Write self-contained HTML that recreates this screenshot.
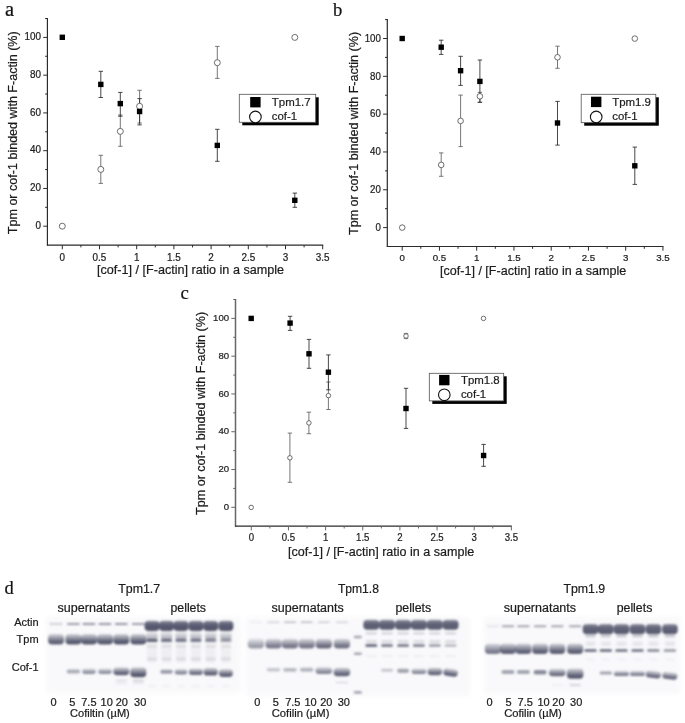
<!DOCTYPE html>
<html><head><meta charset="utf-8"><title>Figure</title>
<style>
html,body{margin:0;padding:0;background:#fff}
svg{display:block;font-family:"Liberation Sans", Arial, sans-serif}
text{stroke:#1c1c1c;stroke-width:0.22px}
</style></head><body>
<svg width="685" height="723" viewBox="0 0 685 723">
<defs>
<filter id="b1" x="-20%" y="-50%" width="140%" height="200%"><feGaussianBlur stdDeviation="1.0"/></filter>
<filter id="b2" x="-20%" y="-50%" width="140%" height="200%"><feGaussianBlur stdDeviation="0.6"/></filter>
<linearGradient id="vg" x1="0" y1="0" x2="0" y2="1"><stop offset="0" stop-color="#505269" stop-opacity="0.22"/><stop offset="0.38" stop-color="#505269" stop-opacity="0.62"/><stop offset="0.74" stop-color="#505269" stop-opacity="1"/><stop offset="1" stop-color="#505269" stop-opacity="1"/></linearGradient>
<linearGradient id="vg2" x1="0" y1="0" x2="0" y2="1"><stop offset="0" stop-color="#505269" stop-opacity="0.6"/><stop offset="0.3" stop-color="#505269" stop-opacity="0.92"/><stop offset="0.6" stop-color="#505269" stop-opacity="1"/><stop offset="1" stop-color="#505269" stop-opacity="1"/></linearGradient>
<filter id="b3" x="-5%" y="-5%" width="110%" height="110%"><feGaussianBlur stdDeviation="2"/></filter>
</defs>
<rect width="685" height="723" fill="#fff"/>
<path d="M47.42 18.02V245.58" stroke="#2b2b2b" stroke-width="1.2" fill="none"/>
<path d="M46.92 245.08H323.20" stroke="#2b2b2b" stroke-width="1.2" fill="none"/>
<path d="M43.22 226.20H47.42M45.12 207.32H47.42M43.22 188.44H47.42M45.12 169.56H47.42M43.22 150.68H47.42M45.12 131.80H47.42M43.22 112.92H47.42M45.12 94.04H47.42M43.22 75.16H47.42M45.12 56.28H47.42M43.22 37.40H47.42M45.12 18.52H47.42M62.30 245.08V249.28M80.90 245.08V247.38M99.50 245.08V249.28M118.10 245.08V247.38M136.70 245.08V249.28M155.30 245.08V247.38M173.90 245.08V249.28M192.50 245.08V247.38M211.10 245.08V249.28M229.70 245.08V247.38M248.30 245.08V249.28M266.90 245.08V247.38M285.50 245.08V249.28M304.10 245.08V247.38M322.70 245.08V249.28" stroke="#2b2b2b" stroke-width="1" fill="none"/>
<text x="41.02" y="228.90" font-size="10.6" text-anchor="end" fill="#1c1c1c" textLength="5.50" lengthAdjust="spacingAndGlyphs">0</text>
<text x="41.02" y="191.14" font-size="10.6" text-anchor="end" fill="#1c1c1c" textLength="11.01" lengthAdjust="spacingAndGlyphs">20</text>
<text x="41.02" y="153.38" font-size="10.6" text-anchor="end" fill="#1c1c1c" textLength="11.01" lengthAdjust="spacingAndGlyphs">40</text>
<text x="41.02" y="115.62" font-size="10.6" text-anchor="end" fill="#1c1c1c" textLength="11.01" lengthAdjust="spacingAndGlyphs">60</text>
<text x="41.02" y="77.86" font-size="10.6" text-anchor="end" fill="#1c1c1c" textLength="11.01" lengthAdjust="spacingAndGlyphs">80</text>
<text x="41.02" y="40.10" font-size="10.6" text-anchor="end" fill="#1c1c1c" textLength="16.51" lengthAdjust="spacingAndGlyphs">100</text>
<text x="62.30" y="260.58" font-size="10.6" text-anchor="middle" fill="#1c1c1c" textLength="5.50" lengthAdjust="spacingAndGlyphs">0</text>
<text x="99.50" y="260.58" font-size="10.6" text-anchor="middle" fill="#1c1c1c" textLength="13.76" lengthAdjust="spacingAndGlyphs">0.5</text>
<text x="136.70" y="260.58" font-size="10.6" text-anchor="middle" fill="#1c1c1c" textLength="5.50" lengthAdjust="spacingAndGlyphs">1</text>
<text x="173.90" y="260.58" font-size="10.6" text-anchor="middle" fill="#1c1c1c" textLength="13.76" lengthAdjust="spacingAndGlyphs">1.5</text>
<text x="211.10" y="260.58" font-size="10.6" text-anchor="middle" fill="#1c1c1c" textLength="5.50" lengthAdjust="spacingAndGlyphs">2</text>
<text x="248.30" y="260.58" font-size="10.6" text-anchor="middle" fill="#1c1c1c" textLength="13.76" lengthAdjust="spacingAndGlyphs">2.5</text>
<text x="285.50" y="260.58" font-size="10.6" text-anchor="middle" fill="#1c1c1c" textLength="5.50" lengthAdjust="spacingAndGlyphs">3</text>
<text x="322.70" y="260.58" font-size="10.6" text-anchor="middle" fill="#1c1c1c" textLength="13.76" lengthAdjust="spacingAndGlyphs">3.5</text>
<text transform="translate(16.60 132.75) rotate(-90)" font-size="13.1" text-anchor="middle" fill="#1c1c1c" textLength="202.90" lengthAdjust="spacingAndGlyphs">Tpm or cof-1 binded with F-actin (%)</text>
<text x="190.50" y="274.30" font-size="13.1" text-anchor="middle" fill="#1c1c1c" textLength="187.10" lengthAdjust="spacingAndGlyphs">[cof-1] / [F-actin] ratio in a sample</text>
<path d="M100.80 155.30V183.40M98.60 155.30h4.4M98.60 183.40h4.4M120.30 115.00V146.30M118.10 115.00h4.4M118.10 146.30h4.4M139.60 90.30V123.00M137.40 90.30h4.4M137.40 123.00h4.4M217.30 46.40V78.40M215.10 46.40h4.4M215.10 78.40h4.4" stroke="#686868" stroke-width="0.9" fill="none"/>
<path d="M100.80 71.30V97.50M98.60 71.30h4.4M98.60 97.50h4.4M120.30 92.40V116.20M118.10 92.40h4.4M118.10 116.20h4.4M139.60 98.60V124.90M137.40 98.60h4.4M137.40 124.90h4.4M217.30 129.30V161.30M215.10 129.30h4.4M215.10 161.30h4.4M294.80 193.10V207.30M292.60 193.10h4.4M292.60 207.30h4.4" stroke="#333" stroke-width="0.9" fill="none"/>
<circle cx="62.30" cy="226.20" r="3.0" fill="#fff" stroke="#555" stroke-width="0.85"/>
<circle cx="100.80" cy="169.40" r="3.0" fill="#fff" stroke="#555" stroke-width="0.85"/>
<circle cx="120.30" cy="131.40" r="3.0" fill="#fff" stroke="#555" stroke-width="0.85"/>
<circle cx="139.60" cy="106.30" r="3.0" fill="#fff" stroke="#555" stroke-width="0.85"/>
<circle cx="217.30" cy="62.70" r="3.0" fill="#fff" stroke="#555" stroke-width="0.85"/>
<circle cx="294.80" cy="37.40" r="3.0" fill="#fff" stroke="#555" stroke-width="0.85"/>
<rect x="59.60" y="34.60" width="5.4" height="5.4" fill="#000"/>
<rect x="98.10" y="81.70" width="5.4" height="5.4" fill="#000"/>
<rect x="117.60" y="100.90" width="5.4" height="5.4" fill="#000"/>
<rect x="136.90" y="108.80" width="5.4" height="5.4" fill="#000"/>
<rect x="214.60" y="142.70" width="5.4" height="5.4" fill="#000"/>
<rect x="292.10" y="197.60" width="5.4" height="5.4" fill="#000"/>
<rect x="242.30" y="97.30" width="76.40" height="28.00" fill="#000"/>
<rect x="239.30" y="94.30" width="76.40" height="28.00" fill="#fff" stroke="#555" stroke-width="0.8"/>
<rect x="250.20" y="97.00" width="10.4" height="10.4" fill="#000"/>
<circle cx="255.40" cy="116.90" r="5.8" fill="#fff" stroke="#111" stroke-width="1.1"/>
<text x="271.80" y="106.00" font-size="11.8" text-anchor="start" fill="#1c1c1c" textLength="38.80" lengthAdjust="spacingAndGlyphs">Tpm1.7</text>
<text x="271.80" y="120.00" font-size="11.8" text-anchor="start" fill="#1c1c1c" textLength="25.30" lengthAdjust="spacingAndGlyphs">cof-1</text>
<text x="5.00" y="16.00" font-size="20.5" text-anchor="start" fill="#111" font-family='"Liberation Serif", "DejaVu Serif", serif'>a</text>
<path d="M387.30 19.09V247.01" stroke="#2b2b2b" stroke-width="1.2" fill="none"/>
<path d="M386.80 246.51H663.45" stroke="#2b2b2b" stroke-width="1.2" fill="none"/>
<path d="M383.10 227.60H387.30M385.00 208.69H387.30M383.10 189.78H387.30M385.00 170.87H387.30M383.10 151.96H387.30M385.00 133.05H387.30M383.10 114.14H387.30M385.00 95.23H387.30M383.10 76.32H387.30M385.00 57.41H387.30M383.10 38.50H387.30M385.00 19.59H387.30M402.20 246.51V250.71M420.82 246.51V248.81M439.45 246.51V250.71M458.07 246.51V248.81M476.70 246.51V250.71M495.32 246.51V248.81M513.95 246.51V250.71M532.58 246.51V248.81M551.20 246.51V250.71M569.83 246.51V248.81M588.45 246.51V250.71M607.08 246.51V248.81M625.70 246.51V250.71M644.33 246.51V248.81M662.95 246.51V250.71" stroke="#2b2b2b" stroke-width="1" fill="none"/>
<text x="380.90" y="230.90" font-size="10.3" text-anchor="end" fill="#1c1c1c" textLength="5.39" lengthAdjust="spacingAndGlyphs">0</text>
<text x="380.90" y="193.08" font-size="10.3" text-anchor="end" fill="#1c1c1c" textLength="10.79" lengthAdjust="spacingAndGlyphs">20</text>
<text x="380.90" y="155.26" font-size="10.3" text-anchor="end" fill="#1c1c1c" textLength="10.79" lengthAdjust="spacingAndGlyphs">40</text>
<text x="380.90" y="117.44" font-size="10.3" text-anchor="end" fill="#1c1c1c" textLength="10.79" lengthAdjust="spacingAndGlyphs">60</text>
<text x="380.90" y="79.62" font-size="10.3" text-anchor="end" fill="#1c1c1c" textLength="10.79" lengthAdjust="spacingAndGlyphs">80</text>
<text x="380.90" y="41.80" font-size="10.3" text-anchor="end" fill="#1c1c1c" textLength="16.18" lengthAdjust="spacingAndGlyphs">100</text>
<text x="402.20" y="261.11" font-size="9.7" text-anchor="middle" fill="#1c1c1c" textLength="5.39" lengthAdjust="spacingAndGlyphs">0</text>
<text x="439.45" y="261.11" font-size="9.7" text-anchor="middle" fill="#1c1c1c" textLength="13.48" lengthAdjust="spacingAndGlyphs">0.5</text>
<text x="476.70" y="261.11" font-size="9.7" text-anchor="middle" fill="#1c1c1c" textLength="5.39" lengthAdjust="spacingAndGlyphs">1</text>
<text x="513.95" y="261.11" font-size="9.7" text-anchor="middle" fill="#1c1c1c" textLength="13.48" lengthAdjust="spacingAndGlyphs">1.5</text>
<text x="551.20" y="261.11" font-size="9.7" text-anchor="middle" fill="#1c1c1c" textLength="5.39" lengthAdjust="spacingAndGlyphs">2</text>
<text x="588.45" y="261.11" font-size="9.7" text-anchor="middle" fill="#1c1c1c" textLength="13.48" lengthAdjust="spacingAndGlyphs">2.5</text>
<text x="625.70" y="261.11" font-size="9.7" text-anchor="middle" fill="#1c1c1c" textLength="5.39" lengthAdjust="spacingAndGlyphs">3</text>
<text x="662.95" y="261.11" font-size="9.7" text-anchor="middle" fill="#1c1c1c" textLength="13.48" lengthAdjust="spacingAndGlyphs">3.5</text>
<text transform="translate(357.60 133.45) rotate(-90)" font-size="13.1" text-anchor="middle" fill="#1c1c1c" textLength="203.10" lengthAdjust="spacingAndGlyphs">Tpm or cof-1 binded with F-actin (%)</text>
<text x="533.10" y="274.60" font-size="13.1" text-anchor="middle" fill="#1c1c1c" textLength="186.10" lengthAdjust="spacingAndGlyphs">[cof-1] / [F-actin] ratio in a sample</text>
<path d="M441.20 152.90V176.30M439.00 152.90h4.4M439.00 176.30h4.4M460.60 95.10V146.60M458.40 95.10h4.4M458.40 146.60h4.4M479.90 92.30V102.30M477.70 92.30h4.4M477.70 102.30h4.4M557.50 46.20V68.30M555.30 46.20h4.4M555.30 68.30h4.4" stroke="#686868" stroke-width="0.9" fill="none"/>
<path d="M441.20 40.20V54.40M439.00 40.20h4.4M439.00 54.40h4.4M460.60 56.30V85.40M458.40 56.30h4.4M458.40 85.40h4.4M479.90 60.00V102.30M477.70 60.00h4.4M477.70 102.30h4.4M557.50 101.40V145.10M555.30 101.40h4.4M555.30 145.10h4.4M634.80 147.10V184.40M632.60 147.10h4.4M632.60 184.40h4.4" stroke="#333" stroke-width="0.9" fill="none"/>
<circle cx="402.20" cy="227.60" r="2.8" fill="#fff" stroke="#555" stroke-width="0.85"/>
<circle cx="441.20" cy="164.90" r="2.8" fill="#fff" stroke="#555" stroke-width="0.85"/>
<circle cx="460.60" cy="120.90" r="2.8" fill="#fff" stroke="#555" stroke-width="0.85"/>
<circle cx="479.90" cy="96.30" r="2.8" fill="#fff" stroke="#555" stroke-width="0.85"/>
<circle cx="557.50" cy="57.30" r="2.8" fill="#fff" stroke="#555" stroke-width="0.85"/>
<circle cx="634.80" cy="38.60" r="2.8" fill="#fff" stroke="#555" stroke-width="0.85"/>
<rect x="399.50" y="35.80" width="5.4" height="5.4" fill="#000"/>
<rect x="438.50" y="44.50" width="5.4" height="5.4" fill="#000"/>
<rect x="457.90" y="68.00" width="5.4" height="5.4" fill="#000"/>
<rect x="477.20" y="78.70" width="5.4" height="5.4" fill="#000"/>
<rect x="554.80" y="120.30" width="5.4" height="5.4" fill="#000"/>
<rect x="632.10" y="163.10" width="5.4" height="5.4" fill="#000"/>
<rect x="584.20" y="97.30" width="74.60" height="28.40" fill="#000"/>
<rect x="581.20" y="94.30" width="74.60" height="28.40" fill="#fff" stroke="#555" stroke-width="0.8"/>
<rect x="591.00" y="96.70" width="10.4" height="10.4" fill="#000"/>
<circle cx="596.20" cy="116.90" r="5.8" fill="#fff" stroke="#111" stroke-width="1.1"/>
<text x="612.20" y="105.60" font-size="11.8" text-anchor="start" fill="#1c1c1c" textLength="38.80" lengthAdjust="spacingAndGlyphs">Tpm1.9</text>
<text x="612.20" y="119.80" font-size="11.8" text-anchor="start" fill="#1c1c1c" textLength="25.30" lengthAdjust="spacingAndGlyphs">cof-1</text>
<text x="333.00" y="15.80" font-size="18.6" text-anchor="start" fill="#111" font-family='"Liberation Serif", "DejaVu Serif", serif'>b</text>
<path d="M235.50 299.01V526.69" stroke="#666" stroke-width="1.5" fill="none"/>
<path d="M235.00 526.19H511.85" stroke="#2b2b2b" stroke-width="1.2" fill="none"/>
<path d="M231.30 507.30H235.50M233.20 488.41H235.50M231.30 469.52H235.50M233.20 450.63H235.50M231.30 431.74H235.50M233.20 412.85H235.50M231.30 393.96H235.50M233.20 375.07H235.50M231.30 356.18H235.50M233.20 337.29H235.50M231.30 318.40H235.50M233.20 299.51H235.50M251.30 526.19V530.39M269.88 526.19V528.49M288.45 526.19V530.39M307.02 526.19V528.49M325.60 526.19V530.39M344.18 526.19V528.49M362.75 526.19V530.39M381.33 526.19V528.49M399.90 526.19V530.39M418.48 526.19V528.49M437.05 526.19V530.39M455.62 526.19V528.49M474.20 526.19V530.39M492.77 526.19V528.49M511.35 526.19V530.39" stroke="#666" stroke-width="1" fill="none"/>
<text x="229.10" y="510.00" font-size="9.7" text-anchor="end" fill="#1c1c1c" textLength="5.34" lengthAdjust="spacingAndGlyphs">0</text>
<text x="229.10" y="472.22" font-size="9.7" text-anchor="end" fill="#1c1c1c" textLength="10.68" lengthAdjust="spacingAndGlyphs">20</text>
<text x="229.10" y="434.44" font-size="9.7" text-anchor="end" fill="#1c1c1c" textLength="10.68" lengthAdjust="spacingAndGlyphs">40</text>
<text x="229.10" y="396.66" font-size="9.7" text-anchor="end" fill="#1c1c1c" textLength="10.68" lengthAdjust="spacingAndGlyphs">60</text>
<text x="229.10" y="358.88" font-size="9.7" text-anchor="end" fill="#1c1c1c" textLength="10.68" lengthAdjust="spacingAndGlyphs">80</text>
<text x="229.10" y="321.10" font-size="9.7" text-anchor="end" fill="#1c1c1c" textLength="16.01" lengthAdjust="spacingAndGlyphs">100</text>
<text x="251.30" y="541.29" font-size="10.6" text-anchor="middle" fill="#1c1c1c" textLength="5.34" lengthAdjust="spacingAndGlyphs">0</text>
<text x="288.45" y="541.29" font-size="10.6" text-anchor="middle" fill="#1c1c1c" textLength="13.34" lengthAdjust="spacingAndGlyphs">0.5</text>
<text x="325.60" y="541.29" font-size="10.6" text-anchor="middle" fill="#1c1c1c" textLength="5.34" lengthAdjust="spacingAndGlyphs">1</text>
<text x="362.75" y="541.29" font-size="10.6" text-anchor="middle" fill="#1c1c1c" textLength="13.34" lengthAdjust="spacingAndGlyphs">1.5</text>
<text x="399.90" y="541.29" font-size="10.6" text-anchor="middle" fill="#1c1c1c" textLength="5.34" lengthAdjust="spacingAndGlyphs">2</text>
<text x="437.05" y="541.29" font-size="10.6" text-anchor="middle" fill="#1c1c1c" textLength="13.34" lengthAdjust="spacingAndGlyphs">2.5</text>
<text x="474.20" y="541.29" font-size="10.6" text-anchor="middle" fill="#1c1c1c" textLength="5.34" lengthAdjust="spacingAndGlyphs">3</text>
<text x="511.35" y="541.29" font-size="10.6" text-anchor="middle" fill="#1c1c1c" textLength="13.34" lengthAdjust="spacingAndGlyphs">3.5</text>
<text transform="translate(205.40 413.40) rotate(-90)" font-size="13.1" text-anchor="middle" fill="#1c1c1c" textLength="203.00" lengthAdjust="spacingAndGlyphs">Tpm or cof-1 binded with F-actin (%)</text>
<text x="381.15" y="555.90" font-size="13.1" text-anchor="middle" fill="#1c1c1c" textLength="186.20" lengthAdjust="spacingAndGlyphs">[cof-1] / [F-actin] ratio in a sample</text>
<path d="M289.90 433.10V482.30M287.70 433.10h4.4M287.70 482.30h4.4M308.90 412.20V433.70M306.70 412.20h4.4M306.70 433.70h4.4M328.40 382.00V409.50M326.20 382.00h4.4M326.20 409.50h4.4M406.00 333.40V338.60M403.80 333.40h4.4M403.80 338.60h4.4" stroke="#686868" stroke-width="0.9" fill="none"/>
<path d="M290.10 316.30V330.40M287.90 316.30h4.4M287.90 330.40h4.4M309.00 339.40V368.30M306.80 339.40h4.4M306.80 368.30h4.4M328.40 354.90V389.80M326.20 354.90h4.4M326.20 389.80h4.4M406.00 388.30V428.40M403.80 388.30h4.4M403.80 428.40h4.4M483.60 444.40V466.30M481.40 444.40h4.4M481.40 466.30h4.4" stroke="#333" stroke-width="0.9" fill="none"/>
<circle cx="251.20" cy="507.40" r="2.25" fill="#fff" stroke="#555" stroke-width="0.85"/>
<circle cx="289.90" cy="457.80" r="2.25" fill="#fff" stroke="#555" stroke-width="0.85"/>
<circle cx="308.90" cy="422.90" r="2.25" fill="#fff" stroke="#555" stroke-width="0.85"/>
<circle cx="328.40" cy="395.60" r="2.25" fill="#fff" stroke="#555" stroke-width="0.85"/>
<circle cx="406.00" cy="336.00" r="2.25" fill="#fff" stroke="#555" stroke-width="0.85"/>
<circle cx="483.50" cy="318.40" r="2.25" fill="#fff" stroke="#555" stroke-width="0.85"/>
<rect x="248.50" y="315.70" width="5.4" height="5.4" fill="#000"/>
<rect x="287.40" y="320.40" width="5.4" height="5.4" fill="#000"/>
<rect x="306.30" y="351.10" width="5.4" height="5.4" fill="#000"/>
<rect x="325.70" y="369.50" width="5.4" height="5.4" fill="#000"/>
<rect x="403.30" y="405.80" width="5.4" height="5.4" fill="#000"/>
<rect x="480.90" y="452.80" width="5.4" height="5.4" fill="#000"/>
<rect x="432.30" y="376.30" width="74.40" height="27.60" fill="#000"/>
<rect x="429.30" y="373.30" width="74.40" height="27.60" fill="#fff" stroke="#555" stroke-width="0.8"/>
<rect x="439.10" y="374.90" width="10.4" height="10.4" fill="#000"/>
<circle cx="444.30" cy="394.80" r="5.8" fill="#fff" stroke="#111" stroke-width="1.1"/>
<text x="460.90" y="383.80" font-size="11.8" text-anchor="start" fill="#1c1c1c" textLength="38.80" lengthAdjust="spacingAndGlyphs">Tpm1.8</text>
<text x="460.90" y="398.20" font-size="11.8" text-anchor="start" fill="#1c1c1c" textLength="25.30" lengthAdjust="spacingAndGlyphs">cof-1</text>
<text x="180.50" y="299.30" font-size="18.8" text-anchor="start" fill="#111" font-family='"Liberation Serif", "DejaVu Serif", serif'>c</text>
<rect x="46" y="617" width="195" height="76" fill="#f9f9fb" filter="url(#b3)"/>
<g filter="url(#b1)">
<rect x="49.50" y="622.90" width="13.00" height="2.20" rx="1.10" fill="#505269" opacity="0.25"/>
<rect x="66.90" y="622.90" width="13.00" height="2.20" rx="1.10" fill="#505269" opacity="0.55"/>
<rect x="82.50" y="622.90" width="13.00" height="2.20" rx="1.10" fill="#505269" opacity="0.6"/>
<rect x="98.50" y="622.90" width="13.00" height="2.20" rx="1.10" fill="#505269" opacity="0.6"/>
<rect x="114.80" y="622.90" width="13.00" height="2.20" rx="1.10" fill="#505269" opacity="0.6"/>
<rect x="131.80" y="622.90" width="13.00" height="2.20" rx="1.10" fill="#505269" opacity="0.55"/>
<rect x="48.05" y="634.00" width="15.90" height="10.40" rx="4.00" fill="url(#vg)" opacity="0.9"/>
<rect x="65.45" y="634.00" width="15.90" height="10.40" rx="4.00" fill="url(#vg)" opacity="0.95"/>
<rect x="81.05" y="634.00" width="15.90" height="10.40" rx="4.00" fill="url(#vg)" opacity="0.95"/>
<rect x="97.05" y="634.00" width="15.90" height="10.40" rx="4.00" fill="url(#vg)" opacity="0.95"/>
<rect x="113.35" y="634.00" width="15.90" height="10.40" rx="4.00" fill="url(#vg)" opacity="0.97"/>
<rect x="130.35" y="634.00" width="15.90" height="10.40" rx="4.00" fill="url(#vg)" opacity="0.95"/>
<rect x="66.65" y="669.50" width="13.50" height="4.00" rx="2.00" fill="#505269" opacity="0.45"/>
<rect x="82.25" y="668.55" width="13.50" height="5.50" rx="2.75" fill="url(#vg)" opacity="0.65"/>
<rect x="98.25" y="668.55" width="13.50" height="5.50" rx="2.75" fill="url(#vg)" opacity="0.65"/>
<rect x="113.30" y="667.30" width="16.00" height="8.00" rx="4.00" fill="url(#vg)" opacity="0.9"/>
<rect x="130.30" y="667.30" width="16.00" height="10.00" rx="4.00" fill="url(#vg)" opacity="0.97"/>
<rect x="115.80" y="679.75" width="11.00" height="1.50" rx="0.75" fill="#505269" opacity="0.2"/>
<rect x="115.80" y="682.40" width="11.00" height="1.20" rx="0.60" fill="#505269" opacity="0.16000000000000003"/>
<rect x="132.80" y="679.75" width="11.00" height="1.50" rx="0.75" fill="#505269" opacity="0.3"/>
<rect x="132.80" y="682.40" width="11.00" height="1.20" rx="0.60" fill="#505269" opacity="0.24"/>
<rect x="144.55" y="620.70" width="14.90" height="10.40" rx="4.00" fill="url(#vg2)" opacity="0.97"/>
<rect x="146.25" y="631.50" width="11.50" height="9.00" rx="4.00" fill="url(#vg)" opacity="0.4"/>
<rect x="159.05" y="620.70" width="14.90" height="10.40" rx="4.00" fill="url(#vg2)" opacity="0.97"/>
<rect x="160.75" y="631.50" width="11.50" height="9.00" rx="4.00" fill="url(#vg)" opacity="0.4"/>
<rect x="173.55" y="620.70" width="14.90" height="10.40" rx="4.00" fill="url(#vg2)" opacity="0.97"/>
<rect x="175.25" y="631.50" width="11.50" height="9.00" rx="4.00" fill="url(#vg)" opacity="0.4"/>
<rect x="188.45" y="620.70" width="14.90" height="10.40" rx="4.00" fill="url(#vg2)" opacity="0.97"/>
<rect x="190.15" y="631.50" width="11.50" height="9.00" rx="4.00" fill="url(#vg)" opacity="0.4"/>
<rect x="203.25" y="620.70" width="14.90" height="10.40" rx="4.00" fill="url(#vg2)" opacity="0.97"/>
<rect x="204.95" y="631.50" width="11.50" height="9.00" rx="4.00" fill="url(#vg)" opacity="0.4"/>
<rect x="218.45" y="620.70" width="14.90" height="10.40" rx="4.00" fill="url(#vg2)" opacity="0.97"/>
<rect x="220.15" y="631.50" width="11.50" height="9.00" rx="4.00" fill="url(#vg)" opacity="0.4"/>
<rect x="146.25" y="639.10" width="11.50" height="3.00" rx="1.50" fill="#505269" opacity="0.85"/>
<rect x="160.75" y="639.10" width="11.50" height="3.00" rx="1.50" fill="#505269" opacity="0.75"/>
<rect x="175.25" y="639.10" width="11.50" height="3.00" rx="1.50" fill="#505269" opacity="0.7"/>
<rect x="190.15" y="639.10" width="11.50" height="3.00" rx="1.50" fill="#505269" opacity="0.7"/>
<rect x="204.95" y="639.10" width="11.50" height="3.00" rx="1.50" fill="#505269" opacity="0.6"/>
<rect x="220.15" y="639.10" width="11.50" height="3.00" rx="1.50" fill="#505269" opacity="0.45"/>
<rect x="147.00" y="645.20" width="10.00" height="2.20" rx="1.10" fill="#505269" opacity="0.15"/>
<rect x="147.00" y="657.80" width="10.00" height="2.40" rx="1.20" fill="#505269" opacity="0.15"/>
<rect x="147.00" y="637.00" width="10.00" height="26.00" rx="4.00" fill="#505269" opacity="0.06"/>
<rect x="148.50" y="685.50" width="7.00" height="1.00" rx="0.50" fill="#505269" opacity="0.12"/>
<rect x="161.50" y="645.20" width="10.00" height="2.20" rx="1.10" fill="#505269" opacity="0.15"/>
<rect x="161.50" y="657.80" width="10.00" height="2.40" rx="1.20" fill="#505269" opacity="0.15"/>
<rect x="161.50" y="637.00" width="10.00" height="26.00" rx="4.00" fill="#505269" opacity="0.06"/>
<rect x="163.00" y="685.50" width="7.00" height="1.00" rx="0.50" fill="#505269" opacity="0.12"/>
<rect x="176.00" y="645.20" width="10.00" height="2.20" rx="1.10" fill="#505269" opacity="0.15"/>
<rect x="176.00" y="657.80" width="10.00" height="2.40" rx="1.20" fill="#505269" opacity="0.15"/>
<rect x="176.00" y="637.00" width="10.00" height="26.00" rx="4.00" fill="#505269" opacity="0.06"/>
<rect x="177.50" y="685.50" width="7.00" height="1.00" rx="0.50" fill="#505269" opacity="0.12"/>
<rect x="190.90" y="645.20" width="10.00" height="2.20" rx="1.10" fill="#505269" opacity="0.15"/>
<rect x="190.90" y="657.80" width="10.00" height="2.40" rx="1.20" fill="#505269" opacity="0.15"/>
<rect x="190.90" y="637.00" width="10.00" height="26.00" rx="4.00" fill="#505269" opacity="0.06"/>
<rect x="192.40" y="685.50" width="7.00" height="1.00" rx="0.50" fill="#505269" opacity="0.12"/>
<rect x="205.70" y="645.20" width="10.00" height="2.20" rx="1.10" fill="#505269" opacity="0.15"/>
<rect x="205.70" y="657.80" width="10.00" height="2.40" rx="1.20" fill="#505269" opacity="0.15"/>
<rect x="205.70" y="637.00" width="10.00" height="26.00" rx="4.00" fill="#505269" opacity="0.06"/>
<rect x="207.20" y="685.50" width="7.00" height="1.00" rx="0.50" fill="#505269" opacity="0.12"/>
<rect x="220.90" y="645.20" width="10.00" height="2.20" rx="1.10" fill="#505269" opacity="0.15"/>
<rect x="220.90" y="657.80" width="10.00" height="2.40" rx="1.20" fill="#505269" opacity="0.15"/>
<rect x="220.90" y="637.00" width="10.00" height="26.00" rx="4.00" fill="#505269" opacity="0.06"/>
<rect x="222.40" y="685.50" width="7.00" height="1.00" rx="0.50" fill="#505269" opacity="0.12"/>
<rect x="160.25" y="669.70" width="12.50" height="4.00" rx="2.00" fill="#505269" opacity="0.55"/>
<rect x="174.75" y="668.95" width="12.50" height="5.50" rx="2.75" fill="url(#vg)" opacity="0.7"/>
<rect x="188.90" y="668.45" width="14.00" height="6.50" rx="3.25" fill="url(#vg)" opacity="0.85"/>
<rect x="203.70" y="667.80" width="14.00" height="7.80" rx="3.90" fill="url(#vg)" opacity="0.92"/>
<rect x="218.90" y="669.10" width="14.00" height="7.80" rx="3.90" fill="url(#vg)" opacity="0.92"/>
</g>
<rect x="246" y="617" width="224" height="79" fill="#f9f9fb" filter="url(#b3)"/>
<g filter="url(#b1)">
<rect x="249.90" y="621.50" width="12.00" height="1.60" rx="0.80" fill="#505269" opacity="0.08"/>
<rect x="267.50" y="621.50" width="12.00" height="1.60" rx="0.80" fill="#505269" opacity="0.25"/>
<rect x="284.00" y="621.50" width="12.00" height="1.60" rx="0.80" fill="#505269" opacity="0.4"/>
<rect x="300.70" y="621.50" width="12.00" height="1.60" rx="0.80" fill="#505269" opacity="0.4"/>
<rect x="317.80" y="621.50" width="12.00" height="1.60" rx="0.80" fill="#505269" opacity="0.3"/>
<rect x="335.90" y="621.50" width="12.00" height="1.60" rx="0.80" fill="#505269" opacity="0.25"/>
<rect x="247.80" y="638.80" width="16.20" height="9.60" rx="4.00" fill="url(#vg)" opacity="0.55"/>
<rect x="265.40" y="638.80" width="16.20" height="9.60" rx="4.00" fill="url(#vg)" opacity="0.75"/>
<rect x="281.90" y="638.80" width="16.20" height="9.60" rx="4.00" fill="url(#vg)" opacity="0.78"/>
<rect x="298.60" y="638.80" width="16.20" height="9.60" rx="4.00" fill="url(#vg)" opacity="0.78"/>
<rect x="315.70" y="638.80" width="16.20" height="9.60" rx="4.00" fill="url(#vg)" opacity="0.85"/>
<rect x="333.80" y="638.80" width="16.20" height="9.60" rx="4.00" fill="url(#vg)" opacity="0.8"/>
<rect x="266.75" y="668.10" width="13.50" height="3.40" rx="1.70" fill="#505269" opacity="0.3"/>
<rect x="283.25" y="667.90" width="13.50" height="3.80" rx="1.90" fill="#505269" opacity="0.38"/>
<rect x="299.95" y="667.80" width="13.50" height="4.00" rx="2.00" fill="#505269" opacity="0.4"/>
<rect x="315.55" y="667.10" width="16.50" height="7.00" rx="3.50" fill="url(#vg)" opacity="0.7"/>
<rect x="333.65" y="667.70" width="16.50" height="8.60" rx="4.00" fill="url(#vg)" opacity="0.9"/>
<rect x="335.90" y="681.80" width="12.00" height="1.40" rx="0.70" fill="#505269" opacity="0.2"/>
<rect x="353.80" y="635.70" width="8.00" height="2.60" rx="1.30" fill="#505269" opacity="0.5"/>
<rect x="353.80" y="652.40" width="8.00" height="2.60" rx="1.30" fill="#505269" opacity="0.5"/>
<rect x="353.80" y="691.10" width="8.00" height="2.60" rx="1.30" fill="#505269" opacity="0.5"/>
<rect x="363.35" y="619.70" width="15.90" height="10.00" rx="4.00" fill="url(#vg2)" opacity="0.93"/>
<rect x="365.80" y="632.40" width="11.00" height="1.80" rx="0.90" fill="#505269" opacity="0.3"/>
<rect x="365.80" y="640.60" width="11.00" height="1.80" rx="0.90" fill="#505269" opacity="0.25"/>
<rect x="366.30" y="655.25" width="10.00" height="1.50" rx="0.75" fill="#505269" opacity="0.1"/>
<rect x="379.05" y="619.70" width="15.90" height="10.00" rx="4.00" fill="url(#vg2)" opacity="0.93"/>
<rect x="381.50" y="632.40" width="11.00" height="1.80" rx="0.90" fill="#505269" opacity="0.3"/>
<rect x="381.50" y="640.60" width="11.00" height="1.80" rx="0.90" fill="#505269" opacity="0.25"/>
<rect x="382.00" y="655.25" width="10.00" height="1.50" rx="0.75" fill="#505269" opacity="0.1"/>
<rect x="395.15" y="619.70" width="15.90" height="10.00" rx="4.00" fill="url(#vg2)" opacity="0.93"/>
<rect x="397.60" y="632.40" width="11.00" height="1.80" rx="0.90" fill="#505269" opacity="0.3"/>
<rect x="397.60" y="640.60" width="11.00" height="1.80" rx="0.90" fill="#505269" opacity="0.25"/>
<rect x="398.10" y="655.25" width="10.00" height="1.50" rx="0.75" fill="#505269" opacity="0.1"/>
<rect x="410.95" y="619.70" width="15.90" height="10.00" rx="4.00" fill="url(#vg2)" opacity="0.93"/>
<rect x="413.40" y="632.40" width="11.00" height="1.80" rx="0.90" fill="#505269" opacity="0.3"/>
<rect x="413.40" y="640.60" width="11.00" height="1.80" rx="0.90" fill="#505269" opacity="0.25"/>
<rect x="413.90" y="655.25" width="10.00" height="1.50" rx="0.75" fill="#505269" opacity="0.1"/>
<rect x="426.85" y="619.70" width="15.90" height="10.00" rx="4.00" fill="url(#vg2)" opacity="0.93"/>
<rect x="429.30" y="632.40" width="11.00" height="1.80" rx="0.90" fill="#505269" opacity="0.3"/>
<rect x="429.30" y="640.60" width="11.00" height="1.80" rx="0.90" fill="#505269" opacity="0.25"/>
<rect x="429.80" y="655.25" width="10.00" height="1.50" rx="0.75" fill="#505269" opacity="0.1"/>
<rect x="442.65" y="619.70" width="15.90" height="10.00" rx="4.00" fill="url(#vg2)" opacity="0.93"/>
<rect x="445.10" y="632.40" width="11.00" height="1.80" rx="0.90" fill="#505269" opacity="0.3"/>
<rect x="445.10" y="640.60" width="11.00" height="1.80" rx="0.90" fill="#505269" opacity="0.25"/>
<rect x="445.60" y="655.25" width="10.00" height="1.50" rx="0.75" fill="#505269" opacity="0.1"/>
<rect x="365.30" y="644.10" width="12.00" height="3.00" rx="1.50" fill="#505269" opacity="0.8"/>
<rect x="381.00" y="644.10" width="12.00" height="3.00" rx="1.50" fill="#505269" opacity="0.7"/>
<rect x="397.10" y="644.10" width="12.00" height="3.00" rx="1.50" fill="#505269" opacity="0.7"/>
<rect x="412.90" y="644.10" width="12.00" height="3.00" rx="1.50" fill="#505269" opacity="0.65"/>
<rect x="428.80" y="644.10" width="12.00" height="3.00" rx="1.50" fill="#505269" opacity="0.5"/>
<rect x="444.60" y="644.10" width="12.00" height="3.00" rx="1.50" fill="#505269" opacity="0.35"/>
<rect x="381.00" y="668.80" width="12.00" height="3.00" rx="1.50" fill="#505269" opacity="0.3"/>
<rect x="397.10" y="668.70" width="12.00" height="4.20" rx="2.10" fill="#505269" opacity="0.5"/>
<rect x="411.65" y="668.55" width="14.50" height="5.50" rx="2.75" fill="url(#vg)" opacity="0.7"/>
<rect x="427.55" y="667.80" width="14.50" height="7.40" rx="3.70" fill="url(#vg)" opacity="0.88"/>
<rect x="443.35" y="668.80" width="14.50" height="7.40" rx="3.70" fill="url(#vg)" opacity="0.9" transform="rotate(8 450.60 672.50)"/>
</g>
<rect x="484" y="617" width="196" height="77" fill="#f9f9fb" filter="url(#b3)"/>
<g filter="url(#b1)">
<rect x="486.55" y="625.30" width="12.50" height="2.00" rx="1.00" fill="#505269" opacity="0.12"/>
<rect x="501.75" y="625.30" width="12.50" height="2.00" rx="1.00" fill="#505269" opacity="0.5"/>
<rect x="517.15" y="625.30" width="12.50" height="2.00" rx="1.00" fill="#505269" opacity="0.5"/>
<rect x="533.85" y="625.30" width="12.50" height="2.00" rx="1.00" fill="#505269" opacity="0.5"/>
<rect x="550.95" y="625.30" width="12.50" height="2.00" rx="1.00" fill="#505269" opacity="0.5"/>
<rect x="568.85" y="625.30" width="12.50" height="2.00" rx="1.00" fill="#505269" opacity="0.5"/>
<rect x="484.85" y="643.50" width="15.90" height="10.60" rx="4.00" fill="url(#vg)" opacity="0.75"/>
<rect x="500.05" y="643.50" width="15.90" height="10.60" rx="4.00" fill="url(#vg)" opacity="0.9"/>
<rect x="515.45" y="643.50" width="15.90" height="10.60" rx="4.00" fill="url(#vg)" opacity="0.9"/>
<rect x="532.15" y="643.50" width="15.90" height="10.60" rx="4.00" fill="url(#vg)" opacity="0.92"/>
<rect x="549.25" y="643.50" width="15.90" height="10.60" rx="4.00" fill="url(#vg)" opacity="0.92"/>
<rect x="567.15" y="643.50" width="15.90" height="10.60" rx="4.00" fill="url(#vg)" opacity="0.92"/>
<rect x="501.50" y="670.10" width="13.00" height="3.80" rx="1.90" fill="#505269" opacity="0.5"/>
<rect x="516.90" y="670.10" width="13.00" height="3.80" rx="1.90" fill="#505269" opacity="0.5"/>
<rect x="533.60" y="670.00" width="13.00" height="4.60" rx="2.30" fill="#505269" opacity="0.65"/>
<rect x="548.95" y="668.85" width="16.50" height="7.50" rx="3.75" fill="url(#vg)" opacity="0.85"/>
<rect x="566.85" y="668.50" width="16.50" height="10.20" rx="4.00" fill="url(#vg)" opacity="0.95"/>
<rect x="569.60" y="684.25" width="11.00" height="1.50" rx="0.75" fill="#505269" opacity="0.3"/>
<rect x="552.20" y="684.40" width="10.00" height="1.20" rx="0.60" fill="#505269" opacity="0.12"/>
<rect x="582.70" y="623.90" width="15.60" height="10.40" rx="4.00" fill="url(#vg2)" opacity="0.93"/>
<rect x="585.25" y="635.30" width="10.50" height="2.00" rx="1.00" fill="#505269" opacity="0.35"/>
<rect x="585.25" y="640.00" width="10.50" height="6.00" rx="3.00" fill="url(#vg)" opacity="0.12"/>
<rect x="586.50" y="658.90" width="8.00" height="1.20" rx="0.60" fill="#505269" opacity="0.08"/>
<rect x="598.00" y="623.90" width="15.60" height="10.40" rx="4.00" fill="url(#vg2)" opacity="0.93"/>
<rect x="600.55" y="635.30" width="10.50" height="2.00" rx="1.00" fill="#505269" opacity="0.35"/>
<rect x="600.55" y="640.00" width="10.50" height="6.00" rx="3.00" fill="url(#vg)" opacity="0.12"/>
<rect x="601.80" y="658.90" width="8.00" height="1.20" rx="0.60" fill="#505269" opacity="0.08"/>
<rect x="613.70" y="623.90" width="15.60" height="10.40" rx="4.00" fill="url(#vg2)" opacity="0.93"/>
<rect x="616.25" y="635.30" width="10.50" height="2.00" rx="1.00" fill="#505269" opacity="0.35"/>
<rect x="616.25" y="640.00" width="10.50" height="6.00" rx="3.00" fill="url(#vg)" opacity="0.12"/>
<rect x="617.50" y="658.90" width="8.00" height="1.20" rx="0.60" fill="#505269" opacity="0.08"/>
<rect x="629.70" y="623.90" width="15.60" height="10.40" rx="4.00" fill="url(#vg2)" opacity="0.93"/>
<rect x="632.25" y="635.30" width="10.50" height="2.00" rx="1.00" fill="#505269" opacity="0.35"/>
<rect x="632.25" y="640.00" width="10.50" height="6.00" rx="3.00" fill="url(#vg)" opacity="0.12"/>
<rect x="633.50" y="658.90" width="8.00" height="1.20" rx="0.60" fill="#505269" opacity="0.08"/>
<rect x="645.60" y="623.90" width="15.60" height="10.40" rx="4.00" fill="url(#vg2)" opacity="0.93"/>
<rect x="648.15" y="635.30" width="10.50" height="2.00" rx="1.00" fill="#505269" opacity="0.35"/>
<rect x="648.15" y="640.00" width="10.50" height="6.00" rx="3.00" fill="url(#vg)" opacity="0.12"/>
<rect x="649.40" y="658.90" width="8.00" height="1.20" rx="0.60" fill="#505269" opacity="0.08"/>
<rect x="662.10" y="623.90" width="15.60" height="10.40" rx="4.00" fill="url(#vg2)" opacity="0.93"/>
<rect x="664.65" y="635.30" width="10.50" height="2.00" rx="1.00" fill="#505269" opacity="0.35"/>
<rect x="664.65" y="640.00" width="10.50" height="6.00" rx="3.00" fill="url(#vg)" opacity="0.12"/>
<rect x="665.90" y="658.90" width="8.00" height="1.20" rx="0.60" fill="#505269" opacity="0.08"/>
<rect x="584.25" y="649.00" width="12.50" height="3.00" rx="1.50" fill="#505269" opacity="0.75"/>
<rect x="599.55" y="649.00" width="12.50" height="3.00" rx="1.50" fill="#505269" opacity="0.75"/>
<rect x="615.25" y="649.00" width="12.50" height="3.00" rx="1.50" fill="#505269" opacity="0.7"/>
<rect x="631.25" y="649.00" width="12.50" height="3.00" rx="1.50" fill="#505269" opacity="0.7"/>
<rect x="647.15" y="649.00" width="12.50" height="3.00" rx="1.50" fill="#505269" opacity="0.6"/>
<rect x="663.65" y="649.00" width="12.50" height="3.00" rx="1.50" fill="#505269" opacity="0.5"/>
<rect x="599.55" y="671.50" width="12.50" height="3.00" rx="1.50" fill="#505269" opacity="0.5"/>
<rect x="614.00" y="670.90" width="15.00" height="5.20" rx="2.60" fill="url(#vg)" opacity="0.75"/>
<rect x="630.00" y="670.90" width="15.00" height="5.20" rx="2.60" fill="url(#vg)" opacity="0.75"/>
<rect x="645.90" y="671.00" width="15.00" height="7.00" rx="3.50" fill="url(#vg)" opacity="0.85" transform="rotate(6 653.40 674.50)"/>
<rect x="662.40" y="672.30" width="15.00" height="7.00" rx="3.50" fill="url(#vg)" opacity="0.85" transform="rotate(6 669.90 675.80)"/>
</g>
<text x="4.60" y="593.60" font-size="18.5" text-anchor="start" fill="#111" font-family='"Liberation Serif", "DejaVu Serif", serif'>d</text>
<text x="139.20" y="592.60" font-size="13.2" text-anchor="middle" fill="#1c1c1c" textLength="42.00" lengthAdjust="spacingAndGlyphs">Tpm1.7</text>
<text x="358.40" y="592.60" font-size="13.2" text-anchor="middle" fill="#1c1c1c" textLength="41.00" lengthAdjust="spacingAndGlyphs">Tpm1.8</text>
<text x="584.30" y="593.00" font-size="13.2" text-anchor="middle" fill="#1c1c1c" textLength="41.80" lengthAdjust="spacingAndGlyphs">Tpm1.9</text>
<text x="93.80" y="611.50" font-size="12.3" text-anchor="middle" fill="#1c1c1c" textLength="72.40" lengthAdjust="spacingAndGlyphs">supernatants</text>
<text x="307.65" y="611.50" font-size="12.3" text-anchor="middle" fill="#1c1c1c" textLength="72.10" lengthAdjust="spacingAndGlyphs">supernatants</text>
<text x="539.90" y="611.50" font-size="12.3" text-anchor="middle" fill="#1c1c1c" textLength="72.20" lengthAdjust="spacingAndGlyphs">supernatants</text>
<text x="188.25" y="611.50" font-size="12.3" text-anchor="middle" fill="#1c1c1c" textLength="35.50" lengthAdjust="spacingAndGlyphs">pellets</text>
<text x="413.35" y="611.50" font-size="12.3" text-anchor="middle" fill="#1c1c1c" textLength="35.70" lengthAdjust="spacingAndGlyphs">pellets</text>
<text x="634.50" y="611.60" font-size="12.3" text-anchor="middle" fill="#1c1c1c" textLength="35.60" lengthAdjust="spacingAndGlyphs">pellets</text>
<text x="38.60" y="625.90" font-size="11" text-anchor="end" fill="#1c1c1c">Actin</text>
<text x="38.60" y="642.60" font-size="11" text-anchor="end" fill="#1c1c1c">Tpm</text>
<text x="38.60" y="670.70" font-size="11" text-anchor="end" fill="#1c1c1c">Cof-1</text>
<text x="53.60" y="706.10" font-size="11" text-anchor="middle" fill="#1c1c1c">0</text>
<text x="72.20" y="706.10" font-size="11" text-anchor="middle" fill="#1c1c1c">5</text>
<text x="88.90" y="706.10" font-size="11" text-anchor="middle" fill="#1c1c1c">7.5</text>
<text x="106.70" y="706.10" font-size="11" text-anchor="middle" fill="#1c1c1c">10</text>
<text x="121.80" y="706.10" font-size="11" text-anchor="middle" fill="#1c1c1c">20</text>
<text x="140.20" y="706.10" font-size="11" text-anchor="middle" fill="#1c1c1c">30</text>
<text x="257.20" y="705.50" font-size="11" text-anchor="middle" fill="#1c1c1c">0</text>
<text x="275.80" y="705.50" font-size="11" text-anchor="middle" fill="#1c1c1c">5</text>
<text x="292.80" y="705.50" font-size="11" text-anchor="middle" fill="#1c1c1c">7.5</text>
<text x="310.60" y="705.50" font-size="11" text-anchor="middle" fill="#1c1c1c">10</text>
<text x="326.30" y="705.50" font-size="11" text-anchor="middle" fill="#1c1c1c">20</text>
<text x="343.80" y="705.50" font-size="11" text-anchor="middle" fill="#1c1c1c">30</text>
<text x="489.60" y="706.20" font-size="11" text-anchor="middle" fill="#1c1c1c">0</text>
<text x="508.60" y="706.20" font-size="11" text-anchor="middle" fill="#1c1c1c">5</text>
<text x="525.20" y="706.20" font-size="11" text-anchor="middle" fill="#1c1c1c">7.5</text>
<text x="543.50" y="706.20" font-size="11" text-anchor="middle" fill="#1c1c1c">10</text>
<text x="558.40" y="706.20" font-size="11" text-anchor="middle" fill="#1c1c1c">20</text>
<text x="576.20" y="706.20" font-size="11" text-anchor="middle" fill="#1c1c1c">30</text>
<text x="99.90" y="717.00" font-size="11" text-anchor="middle" fill="#1c1c1c" textLength="59.80" lengthAdjust="spacingAndGlyphs">Cofiltin (µM)</text>
<text x="300.55" y="717.20" font-size="11" text-anchor="middle" fill="#1c1c1c" textLength="57.80" lengthAdjust="spacingAndGlyphs">Cofilin (µM)</text>
<text x="532.95" y="717.40" font-size="11" text-anchor="middle" fill="#1c1c1c" textLength="57.60" lengthAdjust="spacingAndGlyphs">Cofilin (µM)</text>
</svg></body></html>
